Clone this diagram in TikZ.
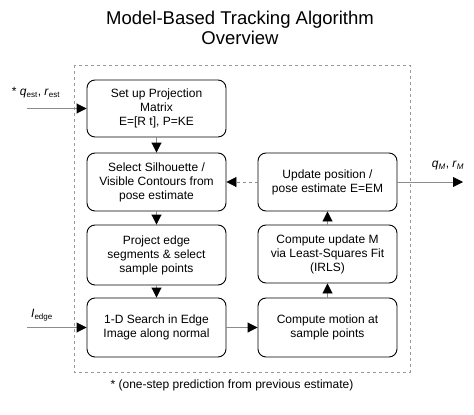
\documentclass[tikz,border=0pt]{standalone}
\usepackage{fontspec}
\setmainfont{Liberation Sans}
\usetikzlibrary{arrows.meta}
\begin{document}
\begin{tikzpicture}[x=1pt,y=-1pt,
  box/.style={draw=black, line width=0.9pt, rounded corners=8pt, minimum width=139pt, align=center, inner sep=0pt, font=\fontsize{12}{14}\selectfont},
  conn/.style={draw=black!45, line width=0.9pt, -{Triangle[length=10pt,width=10pt,color=black,fill=black]}},
  lbl/.style={inner sep=0pt, font=\fontsize{12}{14}\selectfont}
]
\useasboundingbox (0,0) rectangle (474,415);
\draw[black!40, dashed, line width=0.7pt] (74,65) rectangle (410,372);

\node[lbl, align=center, font=\fontsize{18.5}{20}\selectfont] (title) at (240,28) {Model-Based Tracking Algorithm\\Overview};

\node[box, minimum height=57pt] (b1) at (156.5,108.5) {Set up Projection\\Matrix\\E=[R t], P=KE};
\node[box, minimum height=58pt] (b2) at (156.5,182) {Select Silhouette /\\Visible Contours from\\pose estimate};
\node[box, minimum height=60pt] (b3) at (156.5,255) {Project edge\\segments \& select\\sample points};
\node[box, minimum height=59pt] (b4) at (156.5,327.5) {1-D Search in Edge\\Image along normal};

\node[box, minimum height=58pt] (r1) at (327.5,182) {Update position /\\pose estimate E=EM};
\node[box, minimum height=58pt] (r2) at (327.5,254) {Compute update M\\via Least-Squares Fit\\(IRLS)};
\node[box, minimum height=59pt] (r3) at (327.5,327.5) {Compute motion at\\sample points};

\coordinate (inq) at (27,108.5);
\coordinate (ini) at (27,327.5);
\coordinate (out) at (463,182);

\node[lbl] (lq) at (36,93) {* \textit{q}\textsubscript{est}, \textit{r}\textsubscript{est}};
\node[lbl] (li) at (42,315) {\textit{I}\textsubscript{edge}};
\node[lbl] (lo) at (448,166) {\textit{q}\textsubscript{\textit{M}}, \textit{r}\textsubscript{\textit{M}}};

\node[lbl] (foot) at (232,385) {* (one-step prediction from previous estimate)};

\draw[conn] (inq) -- (b1.west);
\draw[conn] (ini) -- (b4.west);
\draw[conn] (b1.south) -- (b2.north);
\draw[conn] (b2.south) -- (b3.north);
\draw[conn] (b3.south) -- (b4.north);
\draw[conn] (b4.east) -- (r3.west);
\draw[conn] (r3.north) -- (r2.south);
\draw[conn] (r2.north) -- (r1.south);
\draw[conn, dashed] (r1.west) -- (b2.east);
\draw[conn] (r1.east) -- (out);
\end{tikzpicture}
\end{document}
